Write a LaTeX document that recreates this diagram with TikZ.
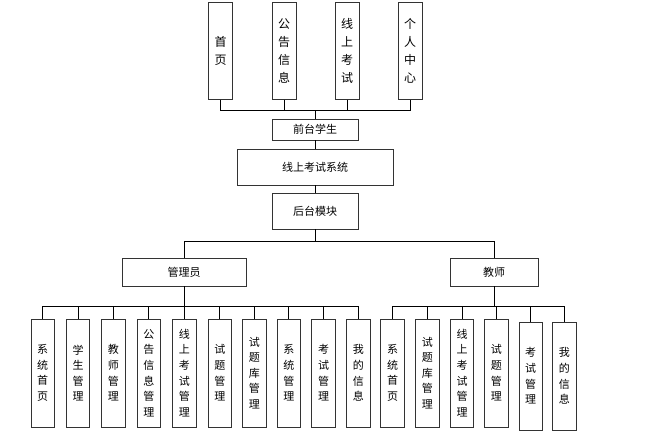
\documentclass[tikz,border=0pt]{standalone}
\usepackage{fontspec}
\setmainfont{Noto Sans CJK SC}
\tikzset{
 box/.style={draw=black!80, line width=0.9pt, fill=white, inner sep=0pt, align=center},
 conn/.style={draw=black, line width=0.7pt},
 vtop/.style={box, minimum width=24pt, minimum height=97pt, font=\fontsize{12}{18}\selectfont},
 vbot/.style={box, minimum width=23.3pt, minimum height=108pt, font=\fontsize{11}{15.6}\selectfont},
 hbox/.style={box, font=\fontsize{11}{13}\selectfont},
}
\begin{document}
\begin{tikzpicture}[x=1pt,y=-1pt]
\useasboundingbox (0,0) rectangle (649,443);
% top
\node[vtop] (t1) at (220.5,50.7) {首\\页};
\node[vtop] (t2) at (284,50.7) {公\\告\\信\\息};
\node[vtop] (t3) at (347,50.7) {线\\上\\考\\试};
\node[vtop] (t4) at (410,50.7) {个\\人\\中\\心};
\node[hbox, minimum width=86pt, minimum height=21pt] (qt) at (315,129.5) {前台学生};
\node[hbox, minimum width=156pt, minimum height=36pt] (sys) at (315,167) {线上考试系统};
\node[hbox, minimum width=86pt, minimum height=36pt] (ht) at (315,211) {后台模块};
\node[hbox, minimum width=124pt, minimum height=28pt] (gly) at (184,272) {管理员};
\node[hbox, minimum width=88pt, minimum height=28pt] (js) at (494,272) {教师};
% admin leaves
\node[vbot] (a1) at (42.7,373) {系\\统\\首\\页};
\node[vbot] (a2) at (78,373) {学\\生\\管\\理};
\node[vbot] (a3) at (113.3,373) {教\\师\\管\\理};
\node[vbot] (a4) at (148.8,373) {公\\告\\信\\息\\管\\理};
\node[vbot] (a5) at (184.3,373) {线\\上\\考\\试\\管\\理};
\node[vbot] (a6) at (219.8,373) {试\\题\\管\\理};
\node[vbot] (a7) at (254.3,373) {试\\题\\库\\管\\理};
\node[vbot] (a8) at (288.8,373) {系\\统\\管\\理};
\node[vbot] (a9) at (323.5,373) {考\\试\\管\\理};
\node[vbot] (a10) at (358.3,373) {我\\的\\信\\息};
% teacher leaves
\node[vbot] (s1) at (392.5,373) {系\\统\\首\\页};
\node[vbot] (s2) at (427.3,373) {试\\题\\库\\管\\理};
\node[vbot] (s3) at (462,373) {线\\上\\考\\试\\管\\理};
\node[vbot] (s4) at (496.3,373) {试\\题\\管\\理};
\node[vbot] (s5) at (530.7,376) {考\\试\\管\\理};
\node[vbot] (s6) at (564.3,376) {我\\的\\信\\息};
% buses
\coordinate (bus1) at (315,110);
\coordinate (bus2) at (315,241);
\coordinate (bus3) at (0,306.5);
% connectors
\draw[conn] (t1.south) -- (t1.south |- bus1) -- (t4.south |- bus1) -- (t4.south);
\draw[conn] (t2.south) -- (t2.south |- bus1);
\draw[conn] (t3.south) -- (t3.south |- bus1);
\draw[conn] (qt.north) -- (qt.north |- bus1);
\draw[conn] (qt.south) -- (sys.north);
\draw[conn] (sys.south) -- (ht.north);
\draw[conn] (ht.south) -- (bus2);
\draw[conn] (gly.north) -- (gly.north |- bus2) -- (js.north |- bus2) -- (js.north);
\draw[conn] (gly.south) -- (gly.south |- bus3);
\draw[conn] (a1.north |- bus3) -- (a10.north |- bus3);
\foreach \n in {a1,a2,a3,a4,a5,a6,a7,a8,a9,a10} {\draw[conn] (\n.north) -- (\n.north |- bus3);}
\draw[conn] (js.south) -- (js.south |- bus3);
\draw[conn] (s1.north |- bus3) -- (s6.north |- bus3);
\foreach \n in {s1,s2,s3,s4,s5,s6} {\draw[conn] (\n.north) -- (\n.north |- bus3);}
\end{tikzpicture}
\end{document}
